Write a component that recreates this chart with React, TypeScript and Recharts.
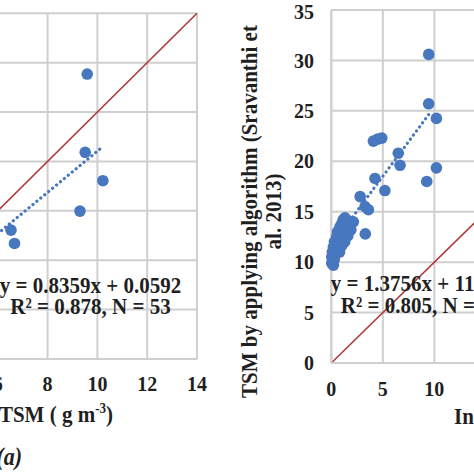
import React from 'react';
import { ScatterChart, Scatter, XAxis, YAxis, CartesianGrid, ReferenceLine } from 'recharts';

// panel (a): only the points that fall inside the visible crop
const leftX = [9.59, 9.51, 10.22, 9.3, 6.53, 6.67];
const leftY = [11.54, 8.37, 7.22, 5.99, 5.22, 4.68];
const leftTicks = [0, 2, 4, 6, 8, 10, 12, 14];
const leftTrend = [{ x: 0, y: 0.0592 }, { x: 10.1, y: 8.502 }];

// panel (b)
const rightX = [9.45, 9.45, 10.2, 10.2, 9.26, 4.08, 4.5, 4.9, 6.5, 6.67, 4.24, 5.2, 2.8, 3.27, 3.6, 3.3,
  1.33, 1.15, 1.6, 2.14, 1.0, 0.84, 1.5, 1.9, 0.6, 1.2, 0.52, 1.0, 1.6, 0.3, 0.8, 1.3,
  0.2, 0.6, 0.1, 0.45, 0.04, 0.3, 0.04, 0.2, 0.8, 1.0];
const rightY = [30.6, 25.7, 24.25, 19.35, 18.0, 22.0, 22.2, 22.3, 20.8, 19.6, 18.3, 17.1, 16.5, 15.5, 15.2, 12.8,
  14.4, 14.2, 14.1, 14.0, 13.8, 13.5, 13.3, 13.2, 13.0, 12.9, 12.5, 12.4, 12.6, 12.0, 11.9, 12.0,
  11.5, 11.3, 11.0, 10.9, 10.5, 10.3, 9.9, 9.7, 11.0, 11.6];
const rightTicks = [0, 5, 10, 15, 20, 25, 30, 35];
const rightTrend = [{ x: 0, y: 11.632 }, { x: 9.5, y: 24.7 }];

const leftData = leftX.map((x, i) => ({ x, y: leftY[i] }));
const rightData = rightX.map((x, i) => ({ x, y: rightY[i] }));

const BLUE = '#4677BF';
const RED = '#B0393A';
const GRID = '#cfcfcf';
const FONT = '"Liberation Serif", "Times New Roman", serif';
const tickStyle = { fontSize: 20, fontWeight: 700, fontFamily: FONT, fill: '#1f1f1f' };

const txt: React.CSSProperties = {
  position: 'absolute', fontFamily: FONT, fontWeight: 700, fontSize: 21, color: '#1f1f1f',
  whiteSpace: 'nowrap', lineHeight: '19px', transform: 'scaleY(1.1)',
};
const sup: React.CSSProperties = { fontSize: 13, position: 'relative', top: -8 };

const Dot = (props: any) => <circle cx={props.cx} cy={props.cy} r={5.8} fill={BLUE} />;

export default function App() {
  return (
    <div style={{ position: 'absolute', left: 0, top: 0, width: 474, height: 474, overflow: 'hidden', background: '#fff' }}>
      {/* panel (b) first */}
      <div style={{ position: 'absolute', left: 237, top: 0, width: 465, height: 474 }}>
        <ScatterChart width={465} height={474} margin={{ top: 10, right: 10, bottom: 81, left: 34.3 }}>
          <CartesianGrid stroke={GRID} strokeWidth={2} horizontalValues={rightTicks} verticalValues={rightTicks} />
          <XAxis type="number" dataKey="x" domain={[0, 35]} ticks={rightTicks} height={30}
            axisLine={{ stroke: GRID, strokeWidth: 2 }} tickLine={false} tickSize={0} tickMargin={18.5} tick={tickStyle} />
          <YAxis type="number" dataKey="y" domain={[0, 35]} ticks={rightTicks} width={60}
            axisLine={{ stroke: GRID, strokeWidth: 2 }} tickLine={false} tickSize={0} tickMargin={17.3} tick={tickStyle} />
          <ReferenceLine segment={[{ x: 0, y: 0 }, { x: 35, y: 35 }]} stroke={RED} strokeWidth={1.6} ifOverflow="visible" />
          <ReferenceLine segment={rightTrend} stroke={BLUE} strokeWidth={3.2} strokeDasharray="0.1 5" strokeLinecap="round" ifOverflow="visible" />
          <Scatter data={rightData} fill={BLUE} shape={Dot} isAnimationActive={false} />
        </ScatterChart>
      </div>
      <div style={{ position: 'absolute', left: -250, top: 0, width: 460, height: 474 }}>
        <ScatterChart width={460} height={474} margin={{ top: 13.3, right: 13, bottom: 85, left: 38.4 }}>
          <CartesianGrid stroke={GRID} strokeWidth={2} horizontalValues={leftTicks} verticalValues={leftTicks} />
          <XAxis type="number" dataKey="x" domain={[0, 14]} ticks={leftTicks} height={30}
            axisLine={{ stroke: GRID, strokeWidth: 2 }} tickLine={false} tickSize={0} tickMargin={17.5} tick={tickStyle} />
          <YAxis type="number" dataKey="y" domain={[0, 14]} ticks={leftTicks} width={60}
            axisLine={{ stroke: GRID, strokeWidth: 2 }} tickLine={false} tickSize={0} tickMargin={17} tick={tickStyle} />
          <ReferenceLine segment={[{ x: 0, y: 0 }, { x: 14, y: 14 }]} stroke={RED} strokeWidth={1.6} ifOverflow="visible" />
          <ReferenceLine segment={leftTrend} stroke={BLUE} strokeWidth={3.2} strokeDasharray="0.1 5" strokeLinecap="round" ifOverflow="visible" />
          <Scatter data={leftData} fill={BLUE} shape={Dot} isAnimationActive={false} />
        </ScatterChart>
      </div>

      {/* panel (a) annotations */}
      <div style={{ ...txt, left: 90.5 - 150, width: 300, top: 275.5, textAlign: 'center' }}>y = 0.8359x + 0.0592</div>
      <div style={{ ...txt, left: 90.5 - 150, width: 300, top: 297, textAlign: 'center' }}>R² = 0.878, N = 53</div>
      <div style={{ ...txt, right: 474 - 113, top: 404, lineHeight: '21px', textAlign: 'right' }}>
        In situ TSM ( g m<span style={sup}>-3</span>)
      </div>
      <div style={{ ...txt, right: 474 - 22, top: 446, fontSize: 22, lineHeight: '22px', fontStyle: 'italic', textAlign: 'right' }}>(a)</div>

      {/* panel (b) annotations */}
      <div style={{ ...txt, left: 421 - 150, width: 300, top: 274, textAlign: 'center' }}>y = 1.3756x + 11.632</div>
      <div style={{ ...txt, left: 421 - 150, width: 300, top: 295.5, textAlign: 'center' }}>R² = 0.805, N = 53</div>
      <div style={{ ...txt, left: 454, top: 406, lineHeight: '21px' }}>
        In situ TSM ( g m<span style={sup}>-3</span>)
      </div>
      <div style={{
        ...txt, left: 250 - 220, top: 211 - 10.5, width: 440, lineHeight: '21px', textAlign: 'center',
        transform: 'rotate(-90deg) scaleY(1.1)', transformOrigin: '220px 10.5px',
      }}>
        TSM by applying algorithm (Sravanthi et
      </div>
      <div style={{
        ...txt, left: 274 - 220, top: 211 - 10.5, width: 440, lineHeight: '21px', textAlign: 'center',
        transform: 'rotate(-90deg) scaleY(1.1)', transformOrigin: '220px 10.5px',
      }}>
        al. 2013)
      </div>
    </div>
  );
}
